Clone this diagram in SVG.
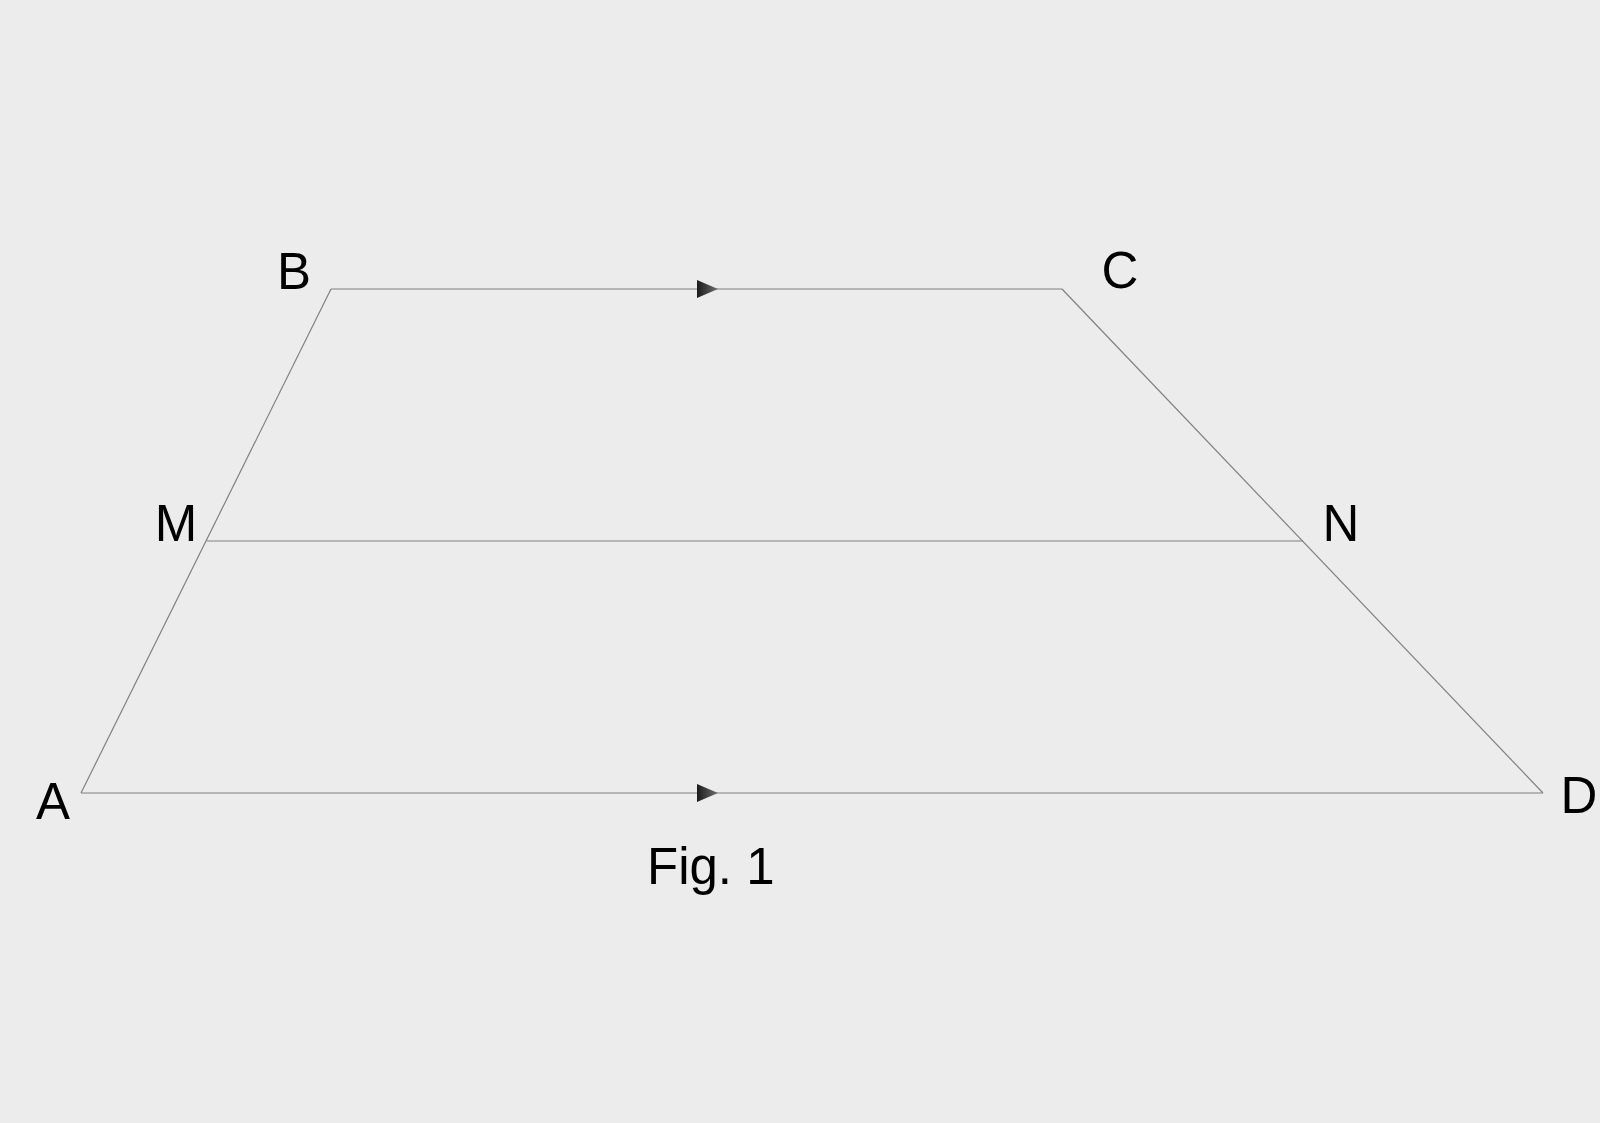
<svg xmlns="http://www.w3.org/2000/svg" width="1600" height="1123" viewBox="0 0 1600 1123">
  <defs>
    <linearGradient id="arrowGrad" x1="0" y1="0" x2="1" y2="0">
      <stop offset="0" stop-color="#1a1a1a"/>
      <stop offset="1" stop-color="#707070"/>
    </linearGradient>
  </defs>
  <style>
    .edge { stroke: #808080; stroke-width: 1.2; fill: none; }
    .lbl { font-family: "Liberation Sans", Arial, sans-serif; font-size: 51px; fill: #000; text-anchor: middle; }
    .tick { fill: url(#arrowGrad); }
  </style>
  <rect x="0" y="0" width="1600" height="1123" fill="#ececec"/>
  <g id="connectors">
    <line class="edge" x1="331" y1="289" x2="1062" y2="289"/>
    <line class="edge" x1="81" y1="793" x2="1543" y2="793"/>
    <line class="edge" x1="81" y1="793" x2="331" y2="289"/>
    <line class="edge" x1="1062" y1="289" x2="1543" y2="793"/>
    <line class="edge" x1="207" y1="541" x2="1303" y2="541"/>
    <polygon class="tick" points="697,280 718,289 697,298"/>
    <polygon class="tick" points="697,784 718,793 697,802"/>
  </g>
  <g id="node-A"><text class="lbl" x="53" y="819">A</text></g>
  <g id="node-B"><text class="lbl" x="294" y="289">B</text></g>
  <g id="node-C"><text class="lbl" x="1120" y="288">C</text></g>
  <g id="node-D"><text class="lbl" x="1579" y="813">D</text></g>
  <g id="node-M"><text class="lbl" x="176" y="541">M</text></g>
  <g id="node-N"><text class="lbl" x="1341" y="541">N</text></g>
  <g id="caption"><text class="lbl" x="647" y="884" style="text-anchor:start">Fig. 1</text></g>
</svg>
